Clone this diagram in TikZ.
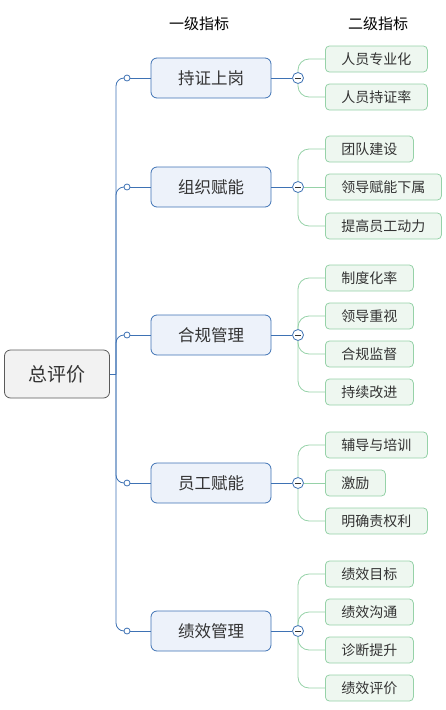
\documentclass[tikz,border=0pt]{standalone}
\usepackage{fontspec}
\setmainfont{Noto Sans CJK SC}
\usepackage{xcolor}
\usetikzlibrary{positioning}

\definecolor{rootfill}{HTML}{F2F2F2}
\definecolor{rootline}{HTML}{5A5A5A}
\definecolor{lvonefill}{HTML}{EDF2FA}
\definecolor{lvoneline}{HTML}{3E72B4}
\definecolor{lvtwofill}{HTML}{EEF7F0}
\definecolor{lvtwoline}{HTML}{96D2A8}
\definecolor{inktext}{HTML}{333333}

\begin{document}
\begin{tikzpicture}[
    x=1pt, y=-1pt,
    font=\fontsize{14pt}{16pt}\selectfont,
    rootbox/.style={draw=rootline, fill=rootfill, rounded corners=6pt, thick, minimum width=105pt, minimum height=48pt, inner sep=0pt, text=inktext, font=\fontsize{19pt}{22pt}\selectfont},
    lvonebox/.style={draw=lvoneline, fill=lvonefill, rounded corners=6pt, thick, minimum width=120pt, minimum height=40pt, inner sep=0pt, text=inktext, font=\fontsize{16.5pt}{19pt}\selectfont},
    lvtwobox/.style={draw=lvtwoline, fill=lvtwofill, rounded corners=4pt, thick, anchor=west, minimum height=26pt, inner xsep=16pt, inner ysep=0pt, text=inktext},
    headtext/.style={font=\fontsize{15pt}{18pt}\selectfont, text=black},
    joint/.style={circle, draw=lvoneline, fill=white, thick, minimum size=6pt, inner sep=0pt},
    collapse/.style={circle, draw=lvoneline, fill=white, thick, minimum size=11pt, inner sep=0pt,
        path picture={\draw[inktext, line width=1pt] ([xshift=2.5pt]path picture bounding box.west) -- ([xshift=-2.5pt]path picture bounding box.east);}},
    blueline/.style={draw=lvoneline, thick},
    greenline/.style={draw=lvtwoline, thick, rounded corners=11pt}
]

    \useasboundingbox (0,0) rectangle (446,710);

    % headers
    \node[headtext] (h1) at (199,24) {一级指标};
    \node[headtext] (h2) at (378,24) {二级指标};

    % root and trunk
    \node[rootbox] (root) at (57,374) {总评价};
    \coordinate (trunk) at (116,374);

    % level one
    \node[lvonebox] (p1) at (211,78) {持证上岗};
    \node[lvonebox] (p2) at (211,187) {组织赋能};
    \node[lvonebox] (p3) at (211,335) {合规管理};
    \node[lvonebox] (p4) at (211,483) {员工赋能};
    \node[lvonebox] (p5) at (211,631) {绩效管理};

    \node[joint] (j1) at (127,78) {};
    \node[joint] (j2) at (127,187) {};
    \node[joint] (j3) at (127,335) {};
    \node[joint] (j4) at (127,483) {};
    \node[joint] (j5) at (127,631) {};

    \node[collapse] (c1) at (298,78) {};
    \node[collapse] (c2) at (298,187) {};
    \node[collapse] (c3) at (298,335) {};
    \node[collapse] (c4) at (298,483) {};
    \node[collapse] (c5) at (298,631) {};

    % level two
    \node[lvtwobox] (q11) at (325,59) {人员专业化};
    \node[lvtwobox] (q12) at (325,97) {人员持证率};

    \node[lvtwobox] (q21) at (325,149) {团队建设};
    \node[lvtwobox] (q22) at (325,187) {领导赋能下属};
    \node[lvtwobox] (q23) at (325,226) {提高员工动力};

    \node[lvtwobox] (q31) at (325,278) {制度化率};
    \node[lvtwobox] (q32) at (325,316) {领导重视};
    \node[lvtwobox] (q33) at (325,354) {合规监督};
    \node[lvtwobox] (q34) at (325,392) {持续改进};

    \node[lvtwobox] (q41) at (325,445) {辅导与培训};
    \node[lvtwobox] (q42) at (325,483) {激励};
    \node[lvtwobox] (q43) at (325,521) {明确责权利};

    \node[lvtwobox] (q51) at (325,574) {绩效目标};
    \node[lvtwobox] (q52) at (325,612) {绩效沟通};
    \node[lvtwobox] (q53) at (325,650) {诊断提升};
    \node[lvtwobox] (q54) at (325,688) {绩效评价};

    % blue connectors
    \draw[blueline] (root.east) -- (trunk);
    \draw[blueline, rounded corners=8pt] (trunk) |- (j1);
    \draw[blueline, rounded corners=8pt] (trunk) |- (j2);
    \draw[blueline, rounded corners=8pt] (trunk) |- (j3);
    \draw[blueline, rounded corners=8pt] (trunk) |- (j4);
    \draw[blueline, rounded corners=8pt] (trunk) |- (j5);
    \draw[blueline] (j1) -- (p1);
    \draw[blueline] (j2) -- (p2);
    \draw[blueline] (j3) -- (p3);
    \draw[blueline] (j4) -- (p4);
    \draw[blueline] (j5) -- (p5);
    \draw[blueline] (p1) -- (c1);
    \draw[blueline] (p2) -- (c2);
    \draw[blueline] (p3) -- (c3);
    \draw[blueline] (p4) -- (c4);
    \draw[blueline] (p5) -- (c5);

    % green connectors
    \draw[greenline] (c1) |- (q11);
    \draw[greenline] (c1) |- (q12);
    \draw[greenline] (c2) |- (q21);
    \draw[greenline] (c2) -- (q22);
    \draw[greenline] (c2) |- (q23);
    \draw[greenline] (c3) |- (q31);
    \draw[greenline] (c3) |- (q32);
    \draw[greenline] (c3) |- (q33);
    \draw[greenline] (c3) |- (q34);
    \draw[greenline] (c4) |- (q41);
    \draw[greenline] (c4) -- (q42);
    \draw[greenline] (c4) |- (q43);
    \draw[greenline] (c5) |- (q51);
    \draw[greenline] (c5) |- (q52);
    \draw[greenline] (c5) |- (q53);
    \draw[greenline] (c5) |- (q54);

\end{tikzpicture}
\end{document}
